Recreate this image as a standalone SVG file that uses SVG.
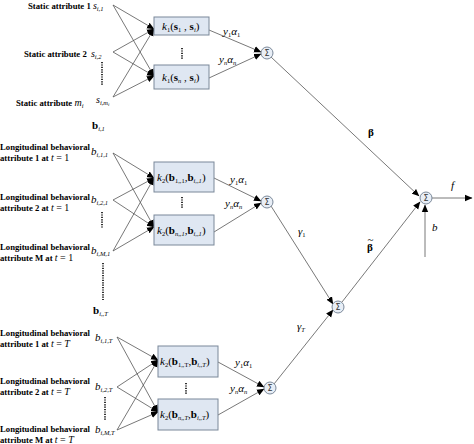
<svg xmlns="http://www.w3.org/2000/svg" width="474" height="444" viewBox="0 0 474 444">
<defs>
<marker id="ah" markerWidth="8" markerHeight="8" refX="7" refY="4" orient="auto" markerUnits="userSpaceOnUse">
<path d="M0,0.8 L7.5,4 L0,7.2 Z" fill="#000"/>
</marker>
<style>
.lbl{font-family:"Liberation Serif",serif;font-weight:bold;font-size:8.7px;fill:#000}
.m{font-family:"Liberation Serif",serif;font-size:11px;fill:#000}
.mn{font-weight:normal;font-size:10px}
.it{font-style:italic}
.bd{font-weight:bold}
.sub{font-size:6.5px}
.box{fill:#dfe7f2;stroke:#7a8899;stroke-width:1}
.sig{fill:#e8eef6;stroke:#7a8899;stroke-width:1}
.arr{stroke:#555;stroke-width:0.8;fill:none;marker-end:url(#ah)}
.dot{stroke:#000;stroke-width:1.6;stroke-dasharray:1.2,1.2;fill:none}
.sg{font-family:"DejaVu Sans",sans-serif;font-size:8px;fill:#333}
</style>
</defs>
<rect width="474" height="444" fill="#fff"/>

<g id="connectors">
<line class="arr" x1="113" y1="5" x2="154" y2="29"/>
<line class="arr" x1="113" y1="5" x2="154" y2="76"/>
<line class="arr" x1="113" y1="52" x2="154" y2="29"/>
<line class="arr" x1="113" y1="52" x2="154" y2="76"/>
<line class="arr" x1="113" y1="97" x2="154" y2="29"/>
<line class="arr" x1="113" y1="97" x2="154" y2="76"/>
<line class="arr" x1="113" y1="153" x2="154" y2="178"/>
<line class="arr" x1="113" y1="153" x2="154" y2="227"/>
<line class="arr" x1="113" y1="200" x2="154" y2="178"/>
<line class="arr" x1="113" y1="200" x2="154" y2="227"/>
<line class="arr" x1="113" y1="251" x2="154" y2="178"/>
<line class="arr" x1="113" y1="251" x2="154" y2="227"/>
<line class="arr" x1="117" y1="337" x2="158" y2="360"/>
<line class="arr" x1="117" y1="337" x2="158" y2="412"/>
<line class="arr" x1="117" y1="387" x2="158" y2="360"/>
<line class="arr" x1="117" y1="387" x2="158" y2="412"/>
<line class="arr" x1="117" y1="430" x2="158" y2="360"/>
<line class="arr" x1="117" y1="430" x2="158" y2="412"/>
<line class="arr" x1="209" y1="30" x2="261" y2="52"/>
<line class="arr" x1="209" y1="78" x2="261" y2="54"/>
<line class="arr" x1="214" y1="178" x2="261" y2="201"/>
<line class="arr" x1="214" y1="232" x2="261" y2="203"/>
<line class="arr" x1="218" y1="362" x2="264" y2="387"/>
<line class="arr" x1="218" y1="415" x2="264" y2="389"/>
<line class="arr" x1="271" y1="57" x2="419" y2="196"/>
<line class="arr" x1="271" y1="206" x2="333" y2="304"/>
<line class="arr" x1="274" y1="384" x2="333" y2="310"/>
<line class="arr" x1="342" y1="302" x2="420" y2="202"/>
<line class="arr" x1="432" y1="198" x2="472" y2="198"/>
<line class="arr" x1="425" y1="257" x2="425" y2="205"/>
<line class="dot" x1="102" y1="62" x2="102" y2="86"/>
<line class="dot" x1="102" y1="212" x2="102" y2="228"/>
<line class="dot" x1="103" y1="263" x2="103" y2="300"/>
<line class="dot" x1="105" y1="397" x2="105" y2="420"/>
<line class="dot" x1="182" y1="48" x2="182" y2="59"/>
<line class="dot" x1="182" y1="197" x2="182" y2="208"/>
<line class="dot" x1="186" y1="383" x2="186" y2="394"/>
</g>

<g id="inputs1">
<text class="lbl" x="28" y="9">Static attribute 1 <tspan class="m it mn">s</tspan><tspan class="sub it" font-weight="normal" dy="2">i,1</tspan></text>
<text class="lbl" x="24" y="57">Static attribute 2 <tspan class="m it mn" dx="2">s</tspan><tspan class="sub it" font-weight="normal" dy="2">i,2</tspan></text>
<text class="lbl" x="16" y="106">Static attribute <tspan class="m it mn">m</tspan><tspan class="sub it" font-weight="normal" dy="2">i</tspan></text>
<text class="m" x="96" y="103"><tspan class="it" font-size="10">s</tspan><tspan class="sub it" dy="2">i,m</tspan><tspan class="it" font-size="5" dy="1">i</tspan></text>
<text class="m" x="92" y="129"><tspan class="bd">b</tspan><tspan class="sub it" dy="2">i,1</tspan></text>
</g>

<g id="inputs2">
<text class="lbl" x="0" y="150">Longitudinal behavioral</text>
<text class="lbl" x="0" y="161">attribute 1 at  <tspan class="m it mn">t</tspan><tspan class="m mn"> = 1</tspan></text>
<text class="m" x="91" y="155"><tspan class="it">b</tspan><tspan class="sub it" dy="2">i,1,1</tspan></text>
<text class="lbl" x="0" y="200">Longitudinal behavioral</text>
<text class="lbl" x="0" y="211">attribute 2 at  <tspan class="m it mn">t</tspan><tspan class="m mn"> = 1</tspan></text>
<text class="m" x="91" y="203"><tspan class="it">b</tspan><tspan class="sub it" dy="2">i,2,1</tspan></text>
<text class="lbl" x="0" y="250">Longitudinal behavioral</text>
<text class="lbl" x="0" y="261">attribute M at  <tspan class="m it mn">t</tspan><tspan class="m mn"> = 1</tspan></text>
<text class="m" x="91" y="254"><tspan class="it">b</tspan><tspan class="sub it" dy="2">i,M,1</tspan></text>
<text class="m" x="93" y="314"><tspan class="bd">b</tspan><tspan class="sub it" dy="2">i,,T</tspan></text>
</g>

<g id="inputs3">
<text class="lbl" x="0" y="336">Longitudinal behavioral</text>
<text class="lbl" x="0" y="347">attribute 1 at <tspan class="m it mn">t</tspan><tspan class="m mn"> = </tspan><tspan class="m it mn">T</tspan></text>
<text class="m" x="95" y="341"><tspan class="it">b</tspan><tspan class="sub it" dy="2">i,1,T</tspan></text>
<text class="lbl" x="0" y="384">Longitudinal behavioral</text>
<text class="lbl" x="0" y="395">attribute 2 at <tspan class="m it mn">t</tspan><tspan class="m mn"> = </tspan><tspan class="m it mn">T</tspan></text>
<text class="m" x="95" y="390"><tspan class="it">b</tspan><tspan class="sub it" dy="2">i,2,T</tspan></text>
<text class="lbl" x="0" y="432">Longitudinal behavioral</text>
<text class="lbl" x="0" y="443">attribute M at <tspan class="m it mn">t</tspan><tspan class="m mn"> = </tspan><tspan class="m it mn">T</tspan></text>
<text class="m" x="95" y="433"><tspan class="it">b</tspan><tspan class="sub it" dy="2">i,M,T</tspan></text>
</g>

<g id="box1">
<rect class="box" x="154" y="17" width="55" height="18"/>
<text class="m" x="162" y="30"><tspan class="it">k</tspan><tspan class="sub" dy="2">1</tspan><tspan dy="-2">(</tspan><tspan class="bd">s</tspan><tspan class="sub" dy="2">1</tspan><tspan dy="-2"> , </tspan><tspan class="bd">s</tspan><tspan class="sub it" dy="2">i</tspan><tspan dy="-2">)</tspan></text>
</g>
<g id="box2">
<rect class="box" x="154" y="65" width="55" height="24"/>
<text class="m" x="162" y="81"><tspan class="it">k</tspan><tspan class="sub" dy="2">1</tspan><tspan dy="-2">(</tspan><tspan class="bd">s</tspan><tspan class="sub it" dy="2">n</tspan><tspan dy="-2"> , </tspan><tspan class="bd">s</tspan><tspan class="sub it" dy="2">i</tspan><tspan dy="-2">)</tspan></text>
</g>
<g id="box3">
<rect class="box" x="154" y="162" width="60" height="30"/>
<text class="m" x="157" y="181"><tspan class="it">k</tspan><tspan class="sub" dy="2">2</tspan><tspan dy="-2">(</tspan><tspan class="bd">b</tspan><tspan class="sub" dy="2">1,,1</tspan><tspan dy="-2">,</tspan><tspan class="bd">b</tspan><tspan class="sub it" dy="2">i,,1</tspan><tspan dy="-2">)</tspan></text>
</g>
<g id="box4">
<rect class="box" x="154" y="215" width="60" height="30"/>
<text class="m" x="157" y="234"><tspan class="it">k</tspan><tspan class="sub" dy="2">2</tspan><tspan dy="-2">(</tspan><tspan class="bd">b</tspan><tspan class="sub it" dy="2">n,,1</tspan><tspan dy="-2">,</tspan><tspan class="bd">b</tspan><tspan class="sub it" dy="2">i,,1</tspan><tspan dy="-2">)</tspan></text>
</g>
<g id="box5">
<rect class="box" x="158" y="346" width="60" height="31"/>
<text class="m" x="160" y="365"><tspan class="it">k</tspan><tspan class="sub" dy="2">2</tspan><tspan dy="-2">(</tspan><tspan class="bd">b</tspan><tspan class="sub" dy="2">1,,T</tspan><tspan dy="-2">,</tspan><tspan class="bd">b</tspan><tspan class="sub it" dy="2">i,,T</tspan><tspan dy="-2">)</tspan></text>
</g>
<g id="box6">
<rect class="box" x="158" y="399" width="60" height="31"/>
<text class="m" x="160" y="418"><tspan class="it">k</tspan><tspan class="sub" dy="2">2</tspan><tspan dy="-2">(</tspan><tspan class="bd">b</tspan><tspan class="sub it" dy="2">n,,T</tspan><tspan dy="-2">,</tspan><tspan class="bd">b</tspan><tspan class="sub it" dy="2">i,,T</tspan><tspan dy="-2">)</tspan></text>
</g>

<g id="weights">
<text class="m" x="223" y="35"><tspan class="it">y</tspan><tspan class="sub" dy="2">1</tspan><tspan class="it" dy="-2">α</tspan><tspan class="sub" dy="2">1</tspan></text>
<text class="m" x="219" y="63"><tspan class="it">y</tspan><tspan class="sub it" dy="2">n</tspan><tspan class="it" dy="-2">α</tspan><tspan class="sub it" dy="2">n</tspan></text>
<text class="m" x="230" y="183"><tspan class="it">y</tspan><tspan class="sub" dy="2">1</tspan><tspan class="it" dy="-2">α</tspan><tspan class="sub" dy="2">1</tspan></text>
<text class="m" x="225" y="207"><tspan class="it">y</tspan><tspan class="sub it" dy="2">n</tspan><tspan class="it" dy="-2">α</tspan><tspan class="sub it" dy="2">n</tspan></text>
<text class="m" x="235" y="366"><tspan class="it">y</tspan><tspan class="sub" dy="2">1</tspan><tspan class="it" dy="-2">α</tspan><tspan class="sub" dy="2">1</tspan></text>
<text class="m" x="230" y="392"><tspan class="it">y</tspan><tspan class="sub it" dy="2">n</tspan><tspan class="it" dy="-2">α</tspan><tspan class="sub it" dy="2">n</tspan></text>
<text class="m" x="298" y="235"><tspan class="it">γ</tspan><tspan class="sub" dy="2">1</tspan></text>
<text class="m" x="297" y="330"><tspan class="it">γ</tspan><tspan class="sub it" dy="2">T</tspan></text>
<text class="m bd" x="368" y="136">β</text>
<text class="m bd" x="367" y="251">β</text>
<text class="m" x="370.5" y="243" font-size="6" text-anchor="middle">~</text>
<text class="m it" x="451" y="189">f</text>
<text class="m it" x="432" y="231">b</text>
</g>

<g id="sum1"><circle class="sig" cx="267" cy="53" r="6"/><text class="sg" x="267" y="56" text-anchor="middle">Σ</text></g>
<g id="sum2"><circle class="sig" cx="267" cy="202" r="6"/><text class="sg" x="267" y="205" text-anchor="middle">Σ</text></g>
<g id="sum3"><circle class="sig" cx="270" cy="388" r="6"/><text class="sg" x="270" y="391" text-anchor="middle">Σ</text></g>
<g id="sum4"><circle class="sig" cx="338" cy="307" r="6"/><text class="sg" x="338" y="310" text-anchor="middle">Σ</text></g>
<g id="sum5"><circle class="sig" cx="426" cy="198" r="6"/><text class="sg" x="426" y="201" text-anchor="middle">Σ</text></g>
</svg>
